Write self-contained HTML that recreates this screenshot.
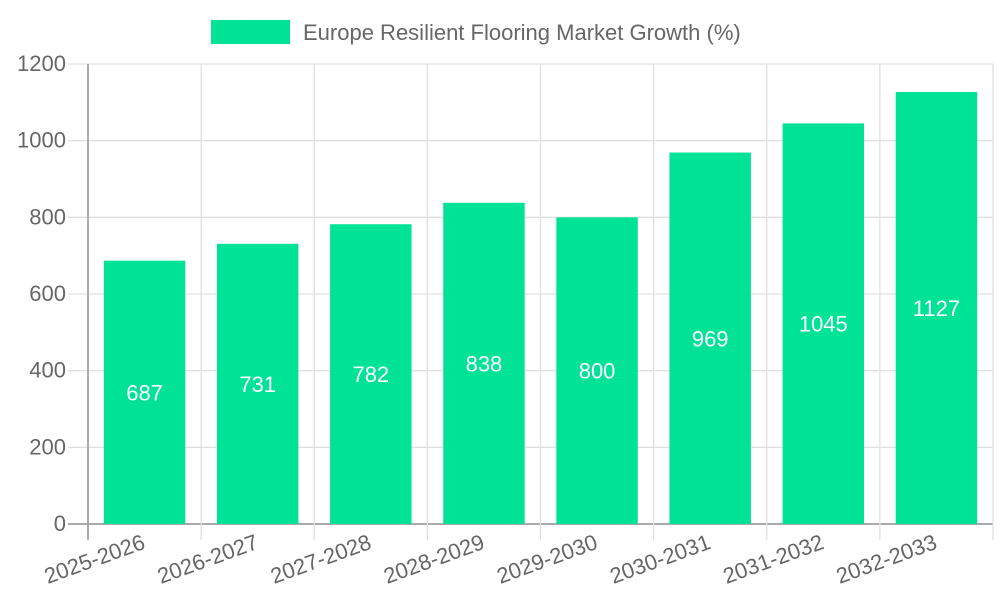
<!DOCTYPE html>
<html><head><meta charset="utf-8"><style>
body{margin:0;background:#fff;}
svg{display:block;font-family:"Liberation Sans",sans-serif;}
</style></head><body>
<svg id="chart" width="1000" height="600" xmlns="http://www.w3.org/2000/svg">
<g id="legend">
<rect x="211" y="20" width="79" height="24" fill="#00e396"/>
<text x="303" y="40" font-size="22" fill="#666">Europe Resilient Flooring Market Growth (%)</text>
</g>
<g id="grid"></g>
<g id="bars"></g>
<g id="axes"></g>
</svg>
<script>
const categories = ["2025-2026","2026-2027","2027-2028","2028-2029","2029-2030","2030-2031","2031-2032","2032-2033"];
const values = [687,731,782,838,800,969,1045,1127];
const yTicks = [0,200,400,600,800,1000,1200];

const NS="http://www.w3.org/2000/svg";
const L=88,R=993,T=64,B=524,yMax=1200;
const step=(R-L)/categories.length;
const y=v=>B-(v/yMax)*(B-T);
const xc=i=>L+step*(i+0.5);
function mk(tag,attrs,parent){const e=document.createElementNS(NS,tag);for(const k in attrs)e.setAttribute(k,attrs[k]);parent.appendChild(e);return e;}
const grid=document.getElementById('grid'),bars=document.getElementById('bars'),axes=document.getElementById('axes');

yTicks.forEach(t=>{
  const ln=mk('line',{x1:68,x2:R,y1:y(t),y2:y(t),stroke:t===0?'#aaa':'#e0e0e0','stroke-width':t===0?2:1.3},grid);
  
  
  const tx=mk('text',{x:66,y:y(t)+7,'text-anchor':'end','font-size':22,fill:'#666'},axes);
  tx.textContent=t;
  
  
});
for(let i=0;i<=categories.length;i++){
  const x=L+step*i;
  const ln=mk('line',{x1:x,x2:x,y1:T,y2:B+16,stroke:i===0?'#aaa':'#e0e0e0','stroke-width':i===0?2:1.3},grid);
  
  
}
const bw=step*0.72;
categories.forEach((c,i)=>{
  const v=values[i];
  const r=mk('rect',{x:xc(i)-bw/2,y:y(v),width:bw,height:B-y(v),fill:'#00e396'},bars);
  
  
  const vl=mk('text',{x:xc(i),y:(y(v)+B)/2+8,'text-anchor':'middle','font-size':22,fill:'#fff'},bars);
  vl.textContent=v;
  
  
  const xl=mk('text',{x:xc(i)+2,y:548,'text-anchor':'end','font-size':22,fill:'#666',transform:`rotate(-20 ${xc(i)+2} 548)`},axes);
  xl.textContent=c;
  
  
});
</script>
</body></html>
